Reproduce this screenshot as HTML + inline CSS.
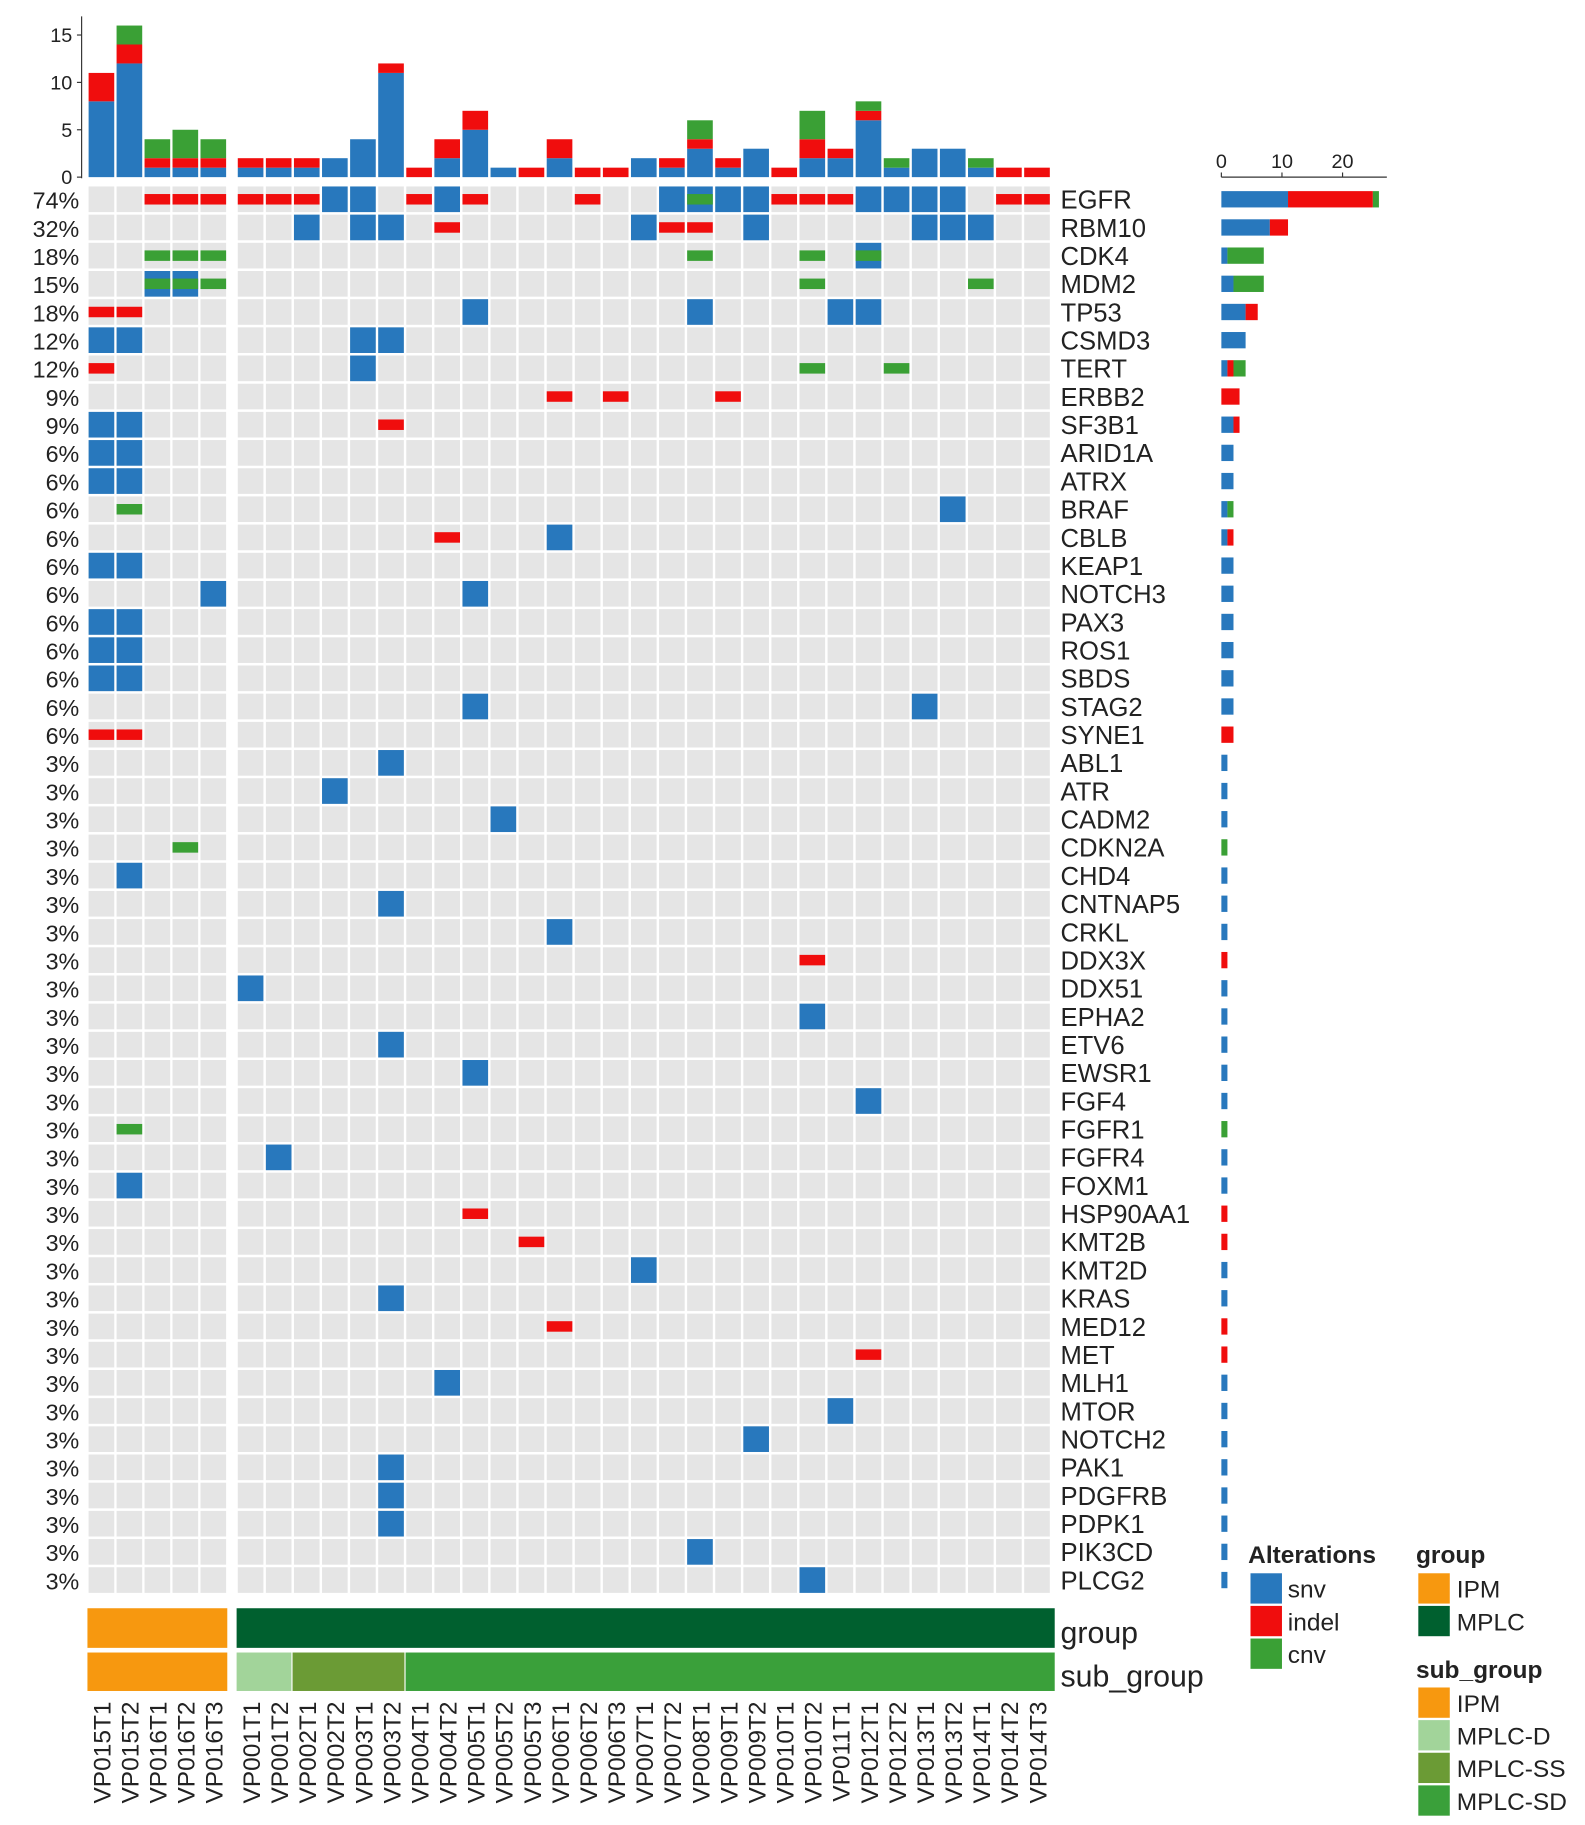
<!DOCTYPE html>
<html><head><meta charset="utf-8">
<style>html,body{margin:0;padding:0;background:#fff}svg{display:block}text{font-family:"Liberation Sans",sans-serif;fill:#222}</style>
</head><body>
<svg id="s" xmlns="http://www.w3.org/2000/svg" width="1585" height="1825" viewBox="0 0 1360 1566"></svg>
<script>
const B="#2878bd",R="#f00d0d",G="#3aa035",BG="#e5e5e5";
const samples=["VP015T1","VP015T2","VP016T1","VP016T2","VP016T3","VP001T1","VP001T2","VP002T1","VP002T2","VP003T1","VP003T2","VP004T1","VP004T2","VP005T1","VP005T2","VP005T3","VP006T1","VP006T2","VP006T3","VP007T1","VP007T2","VP008T1","VP009T1","VP009T2","VP010T1","VP010T2","VP011T1","VP012T1","VP012T2","VP013T1","VP013T2","VP014T1","VP014T2","VP014T3"];
const cx=[87,111,135,159,183];for(let i=0;i<29;i++)cx.push(215+24.1*i);
const genes=[
["EGFR","74%",{2:"r",3:"r",4:"r",5:"r",6:"r",7:"r",8:"s",9:"s",11:"r",12:"s",13:"r",17:"r",20:"s",21:"sg",22:"s",23:"s",24:"r",25:"r",26:"r",27:"s",28:"s",29:"s",30:"s",32:"r",33:"r"}],
["RBM10","32%",{7:"s",9:"s",10:"s",12:"r",19:"s",20:"r",21:"r",23:"s",29:"s",30:"s",31:"s"}],
["CDK4","18%",{2:"g",3:"g",4:"g",21:"g",25:"g",27:"sg"}],
["MDM2","15%",{2:"sg",3:"sg",4:"g",25:"g",31:"g"}],
["TP53","18%",{0:"r",1:"r",13:"s",21:"s",26:"s",27:"s"}],
["CSMD3","12%",{0:"s",1:"s",9:"s",10:"s"}],
["TERT","12%",{0:"r",9:"s",25:"g",28:"g"}],
["ERBB2","9%",{16:"r",18:"r",22:"r"}],
["SF3B1","9%",{0:"s",1:"s",10:"r"}],
["ARID1A","6%",{0:"s",1:"s"}],
["ATRX","6%",{0:"s",1:"s"}],
["BRAF","6%",{1:"g",30:"s"}],
["CBLB","6%",{12:"r",16:"s"}],
["KEAP1","6%",{0:"s",1:"s"}],
["NOTCH3","6%",{4:"s",13:"s"}],
["PAX3","6%",{0:"s",1:"s"}],
["ROS1","6%",{0:"s",1:"s"}],
["SBDS","6%",{0:"s",1:"s"}],
["STAG2","6%",{13:"s",29:"s"}],
["SYNE1","6%",{0:"r",1:"r"}],
["ABL1","3%",{10:"s"}],["ATR","3%",{8:"s"}],["CADM2","3%",{14:"s"}],["CDKN2A","3%",{3:"g"}],
["CHD4","3%",{1:"s"}],["CNTNAP5","3%",{10:"s"}],["CRKL","3%",{16:"s"}],["DDX3X","3%",{25:"r"}],
["DDX51","3%",{5:"s"}],["EPHA2","3%",{25:"s"}],["ETV6","3%",{10:"s"}],["EWSR1","3%",{13:"s"}],
["FGF4","3%",{27:"s"}],["FGFR1","3%",{1:"g"}],["FGFR4","3%",{6:"s"}],["FOXM1","3%",{1:"s"}],
["HSP90AA1","3%",{13:"r"}],["KMT2B","3%",{15:"r"}],["KMT2D","3%",{19:"s"}],["KRAS","3%",{10:"s"}],
["MED12","3%",{16:"r"}],["MET","3%",{27:"r"}],["MLH1","3%",{12:"s"}],["MTOR","3%",{26:"s"}],
["NOTCH2","3%",{23:"s"}],["PAK1","3%",{10:"s"}],["PDGFRB","3%",{10:"s"}],["PDPK1","3%",{10:"s"}],
["PIK3CD","3%",{21:"s"}],["PLCG2","3%",{25:"s"}]];
let h="";
const rect=(x,y,w,hh,c)=>`<rect x="${x}" y="${y}" width="${w}" height="${hh}" fill="${c}"/>`;
const txt=(x,y,t,sz,anc,extra)=>`<text x="${x}" y="${y}" font-size="${sz}" text-anchor="${anc||'start'}" ${extra||''}>${t}</text>`;
const cw=22,ch=22,top0=160,pitch=24.18;
const colCnt=samples.map(()=>({s:0,r:0,g:0}));
genes.forEach((g,i)=>{
  const y=top0+i*pitch;
  const cnt={s:0,r:0,g:0};
  cx.forEach((x,j)=>{
    h+=rect(x-cw/2,y,cw,ch,BG);
    const v=g[2][j];
    if(v){
      if(v.includes("s")){h+=rect(x-cw/2,y,cw,ch,B);cnt.s++;colCnt[j].s++;}
      if(v.includes("r")){h+=rect(x-cw/2,y+ch/2-4.5,cw,9,R);cnt.r++;colCnt[j].r++;}
      if(v.includes("g")){h+=rect(x-cw/2,y+ch/2-4.5,cw,9,G);cnt.g++;colCnt[j].g++;}
    }
  });
  h+=txt(68,y+19,g[1],20,"end");
  h+=txt(910,y+19,g[0],22,"start");
  let bx=1048;const sc=5.2;
  [["s",B],["r",R],["g",G]].forEach(([k,c])=>{if(cnt[k]){h+=rect(bx,y+4,cnt[k]*sc,14,c);bx+=cnt[k]*sc;}});
});
colCnt[1]={s:12,r:2,g:2};
colCnt[10]={s:11,r:1,g:0};
colCnt[13]={s:5,r:2,g:0};
colCnt[27]={s:6,r:1,g:1};
const base=152,us=8.13;
cx.forEach((x,j)=>{
  let yy=base;
  [["s",B],["r",R],["g",G]].forEach(([k,c])=>{const n=colCnt[j][k];if(n){h+=rect(x-cw/2,yy-n*us,cw,n*us,c);yy-=n*us;}});
});
h+=`<line x1="70" y1="14" x2="70" y2="153" stroke="#333" stroke-width="1"/>`;
[0,5,10,15].forEach(v=>{const y=base-v*us;h+=`<line x1="66" y1="${y}" x2="70" y2="${y}" stroke="#333"/>`+txt(62,y+6,v,17,"end");});
h+=`<line x1="1048" y1="152" x2="1190" y2="152" stroke="#333"/>`;
[0,10,20].forEach(v=>{const x=1048+v*5.2;h+=`<line x1="${x}" y1="148" x2="${x}" y2="152" stroke="#333"/>`+txt(x,144,v,17,"middle");});
h+=rect(75,1380,120,34,"#f7980f")+rect(203,1380,702,34,"#00602f");
h+=rect(75,1418,120,33,"#f7980f")+rect(203,1418,47,33,"#a2d49a")+rect(251,1418,96,33,"#6b9b35")+rect(348,1418,557,33,"#3aa03a");
h+=txt(910,1410,"group",26)+txt(910,1447,"sub_group",26);
cx.forEach((x,j)=>{h+=`<text x="${x+8}" y="1460" font-size="21" text-anchor="end" transform="rotate(-90 ${x+8} 1460)">${samples[j]}</text>`;});
h+=txt(1071,1341,"Alterations",21,"start",'font-weight="bold"');
[["snv",B],["indel",R],["cnv",G]].forEach(([t,c],i)=>{h+=rect(1073,1350+i*28,27,26,c)+txt(1105,1371+i*28,t,21);});
h+=txt(1215,1341,"group",21,"start",'font-weight="bold"');
[["IPM","#f7980f"],["MPLC","#00602f"]].forEach(([t,c],i)=>{h+=rect(1217,1350+i*28,27,26,c)+txt(1250,1371+i*28,t,21);});
h+=txt(1215,1440,"sub_group",21,"start",'font-weight="bold"');
[["IPM","#f7980f"],["MPLC-D","#a2d49a"],["MPLC-SS","#6b9b35"],["MPLC-SD","#3aa03a"]].forEach(([t,c],i)=>{h+=rect(1217,1448+i*28,27,26,c)+txt(1250,1469+i*28,t,21);});
document.getElementById("s").innerHTML=h;
</script>
</body></html>
